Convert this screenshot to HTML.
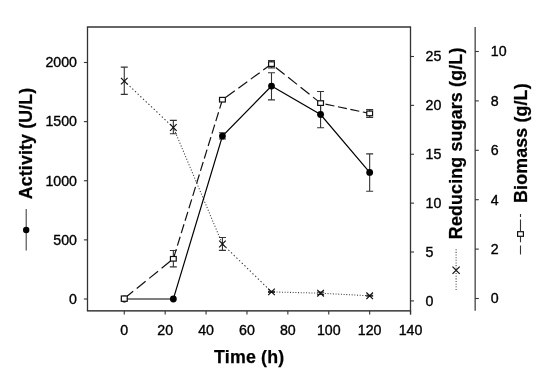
<!DOCTYPE html>
<html><head><meta charset="utf-8"><title>Activity, reducing sugars and biomass vs time</title>
<style>html,body{margin:0;padding:0;background:#fff;width:550px;height:383px;overflow:hidden}svg{display:block}</style>
</head><body>
<svg width="550" height="383" viewBox="0 0 550 383">
<rect width="550" height="383" fill="#fff"/>
<g fill="none" stroke="#333" stroke-width="1.1">
<path d="M86.9,27.0H411.1" stroke="#333" stroke-width="1.4"/>
<path d="M86.9,310.9H411.1" stroke="#111" stroke-width="1.2"/>
<path d="M87.5,27.0V310.9M410.5,27.0V314.6" stroke="#333" stroke-width="1.3"/>
<path d="M83.9,299.00H87.5"/>
<path d="M83.9,239.88H87.5"/>
<path d="M83.9,180.75H87.5"/>
<path d="M83.9,121.62H87.5"/>
<path d="M83.9,62.50H87.5"/>
<path d="M124.27,310.9V314.6"/>
<path d="M165.17,310.9V314.6"/>
<path d="M206.07,310.9V314.6"/>
<path d="M246.96,310.9V314.6"/>
<path d="M287.86,310.9V314.6"/>
<path d="M328.76,310.9V314.6"/>
<path d="M369.66,310.9V314.6"/>
<path d="M410.56,310.9V314.6"/>
<path d="M410.5,300.90H414.0"/>
<path d="M410.5,252.02H414.0"/>
<path d="M410.5,203.14H414.0"/>
<path d="M410.5,154.26H414.0"/>
<path d="M410.5,105.38H414.0"/>
<path d="M410.5,56.50H414.0"/>
<path d="M475.15,27.0V310.8" stroke="#333" stroke-width="1.2"/>
<path d="M475.15,298.50H478.8"/>
<path d="M475.15,249.10H478.8"/>
<path d="M475.15,199.70H478.8"/>
<path d="M475.15,150.30H478.8"/>
<path d="M475.15,100.90H478.8"/>
<path d="M475.15,51.50H478.8"/>
</g>
<g font-family="'Liberation Sans', Arial, sans-serif" font-size="14.2" fill="#000" stroke="#000" stroke-width="0.35">
<text x="77" y="303.80" text-anchor="end">0</text>
<text x="77" y="244.68" text-anchor="end">500</text>
<text x="77" y="185.55" text-anchor="end">1000</text>
<text x="77" y="126.42" text-anchor="end">1500</text>
<text x="77" y="67.30" text-anchor="end">2000</text>
<text x="124.27" y="334.6" text-anchor="middle">0</text>
<text x="165.17" y="334.6" text-anchor="middle">20</text>
<text x="206.07" y="334.6" text-anchor="middle">40</text>
<text x="246.96" y="334.6" text-anchor="middle">60</text>
<text x="287.86" y="334.6" text-anchor="middle">80</text>
<text x="328.76" y="334.6" text-anchor="middle">100</text>
<text x="369.66" y="334.6" text-anchor="middle">120</text>
<text x="410.56" y="334.6" text-anchor="middle">140</text>
<text x="425.6" y="305.70">0</text>
<text x="425.6" y="256.82">5</text>
<text x="425.6" y="207.94">10</text>
<text x="425.6" y="159.06">15</text>
<text x="425.6" y="110.18">20</text>
<text x="425.6" y="61.30">25</text>
<text x="490.8" y="303.30">0</text>
<text x="490.8" y="253.90">2</text>
<text x="490.8" y="204.50">4</text>
<text x="490.8" y="155.10">6</text>
<text x="490.8" y="105.70">8</text>
<text x="490.8" y="56.30">10</text>
</g>
<g font-family="'Liberation Sans', Arial, sans-serif" font-size="17.8" font-weight="bold" fill="#000" stroke="#000" stroke-width="0.25">
<text x="249.1" y="362.5" text-anchor="middle" textLength="70" lengthAdjust="spacing">Time (h)</text>
<text transform="translate(31.8,143.5) rotate(-90)" text-anchor="middle" textLength="111.5" lengthAdjust="spacing">Activity (U/L)</text>
<text transform="translate(462,143.4) rotate(-90)" text-anchor="middle" textLength="191.5" lengthAdjust="spacing">Reducing sugars (g/L)</text>
<text transform="translate(526.8,143.2) rotate(-90)" text-anchor="middle" textLength="119.5" lengthAdjust="spacing">Biomass (g/L)</text>
</g>
<g fill="none" stroke="#3a3a3a" stroke-width="1.05">
<path d="M124.27,81.10L173.35,127.50" stroke-dasharray="1.376 2.312" stroke-dashoffset="0.000"/>
<path d="M173.35,127.50L222.43,244.00" stroke-dasharray="1.085 1.823" stroke-dashoffset="0.909"/>
<path d="M222.43,244.00L271.50,291.90" stroke-dasharray="1.397 2.348" stroke-dashoffset="2.931"/>
<path d="M271.50,291.90L320.58,293.20" stroke-dasharray="1.000 1.681" stroke-dashoffset="0.255"/>
<path d="M320.58,293.20L369.66,295.80" stroke-dasharray="1.001 1.682" stroke-dashoffset="1.094"/>
</g>
<g fill="none" stroke="#111" stroke-width="1.2">
<path d="M124.27,298.50L173.35,258.80" stroke-dasharray="11.447 4.566" stroke-dashoffset="0.000"/>
<path d="M173.35,258.80L222.43,99.70" stroke-dasharray="9.314 3.715" stroke-dashoffset="12.273"/>
<path d="M222.43,99.70L271.50,64.10" stroke-dasharray="10.995 4.386" stroke-dashoffset="11.091"/>
<path d="M271.50,64.10L320.58,103.10" stroke-dasharray="11.368 4.534" stroke-dashoffset="10.544"/>
<path d="M320.58,103.10L369.66,113.40" stroke-dasharray="9.094 3.627" stroke-dashoffset="7.697"/>
</g>
<polyline points="124.27,299.00 173.35,299.00 222.43,136.10 271.50,86.10 320.58,114.50 369.66,172.40" fill="none" stroke="#000" stroke-width="1.2"/>
<path d="M222.43,132.70V139.00M218.93,132.70H225.93M218.93,139.00H225.93" stroke="#333" stroke-width="1.1" fill="none"/>
<path d="M271.50,72.70V99.90M268.00,72.70H275.00M268.00,99.90H275.00" stroke="#333" stroke-width="1.1" fill="none"/>
<path d="M320.58,101.20V127.80M317.08,101.20H324.08M317.08,127.80H324.08" stroke="#333" stroke-width="1.1" fill="none"/>
<path d="M369.66,153.90V191.30M366.16,153.90H373.16M366.16,191.30H373.16" stroke="#333" stroke-width="1.1" fill="none"/>
<path d="M124.27,67.10V94.40M120.77,67.10H127.77M120.77,94.40H127.77" stroke="#333" stroke-width="1.1" fill="none"/>
<path d="M173.35,120.40V133.70M169.85,120.40H176.85M169.85,133.70H176.85" stroke="#333" stroke-width="1.1" fill="none"/>
<path d="M222.43,237.50V250.40M218.93,237.50H225.93M218.93,250.40H225.93" stroke="#333" stroke-width="1.1" fill="none"/>
<path d="M271.50,291.40V292.40M268.00,291.40H275.00M268.00,292.40H275.00" stroke="#333" stroke-width="1.1" fill="none"/>
<path d="M320.58,292.10V294.40M317.08,292.10H324.08M317.08,294.40H324.08" stroke="#333" stroke-width="1.1" fill="none"/>
<path d="M369.66,295.30V296.30M366.16,295.30H373.16M366.16,296.30H373.16" stroke="#333" stroke-width="1.1" fill="none"/>
<path d="M173.35,250.50V266.90M169.85,250.50H176.85M169.85,266.90H176.85" stroke="#333" stroke-width="1.1" fill="none"/>
<path d="M222.43,99.20V100.20M218.93,99.20H225.93M218.93,100.20H225.93" stroke="#333" stroke-width="1.1" fill="none"/>
<path d="M271.50,60.50V67.90M268.00,60.50H275.00M268.00,67.90H275.00" stroke="#333" stroke-width="1.1" fill="none"/>
<path d="M320.58,91.50V114.70M317.08,91.50H324.08M317.08,114.70H324.08" stroke="#333" stroke-width="1.1" fill="none"/>
<path d="M369.66,109.60V117.40M366.16,109.60H373.16M366.16,117.40H373.16" stroke="#333" stroke-width="1.1" fill="none"/>
<path d="M120.97,77.80L127.57,84.40M120.97,84.40L127.57,77.80" stroke="#111" stroke-width="1.2" fill="none"/>
<path d="M170.05,124.20L176.65,130.80M170.05,130.80L176.65,124.20" stroke="#111" stroke-width="1.2" fill="none"/>
<path d="M219.13,240.70L225.73,247.30M219.13,247.30L225.73,240.70" stroke="#111" stroke-width="1.2" fill="none"/>
<path d="M268.20,288.60L274.80,295.20M268.20,295.20L274.80,288.60" stroke="#111" stroke-width="1.2" fill="none"/>
<path d="M317.28,289.90L323.88,296.50M317.28,296.50L323.88,289.90" stroke="#111" stroke-width="1.2" fill="none"/>
<path d="M366.36,292.50L372.96,299.10M366.36,299.10L372.96,292.50" stroke="#111" stroke-width="1.2" fill="none"/>
<circle cx="124.27" cy="299.00" r="3.4" fill="#000"/>
<circle cx="173.35" cy="299.00" r="3.4" fill="#000"/>
<circle cx="222.43" cy="136.10" r="3.4" fill="#000"/>
<circle cx="271.50" cy="86.10" r="3.4" fill="#000"/>
<circle cx="320.58" cy="114.50" r="3.4" fill="#000"/>
<circle cx="369.66" cy="172.40" r="3.4" fill="#000"/>
<rect x="121.32" y="296.00" width="5.9" height="5.3" fill="#fff" stroke="#111" stroke-width="1.2"/>
<rect x="170.45" y="256.50" width="5.8" height="4.6" fill="#fff" stroke="#111" stroke-width="1.2"/>
<rect x="219.53" y="97.40" width="5.8" height="4.6" fill="#fff" stroke="#111" stroke-width="1.2"/>
<rect x="268.60" y="61.80" width="5.8" height="4.6" fill="#fff" stroke="#111" stroke-width="1.2"/>
<rect x="317.68" y="100.80" width="5.8" height="4.6" fill="#fff" stroke="#111" stroke-width="1.2"/>
<rect x="366.76" y="111.10" width="5.8" height="4.6" fill="#fff" stroke="#111" stroke-width="1.2"/>
<path d="M26.2,209V250.4" stroke="#444" stroke-width="1.1"/>
<circle cx="26.20" cy="230.00" r="3.2" fill="#000"/>
<path d="M456.1,249.2V291.2" stroke="#444" stroke-width="1.05" stroke-dasharray="1.05 1.6"/>
<path d="M452.50,266.60L459.70,273.80M452.50,273.80L459.70,266.60" stroke="#111" stroke-width="1.2" fill="none"/>
<path d="M520.5,213.9V217.0M520.5,219.6V231M520.5,233V242.3M520.5,245.5V254.6" stroke="#333" stroke-width="1.1"/>
<rect x="517.60" y="231.70" width="5.8" height="4.6" fill="#fff" stroke="#111" stroke-width="1.2"/>
</svg>
</body></html>
